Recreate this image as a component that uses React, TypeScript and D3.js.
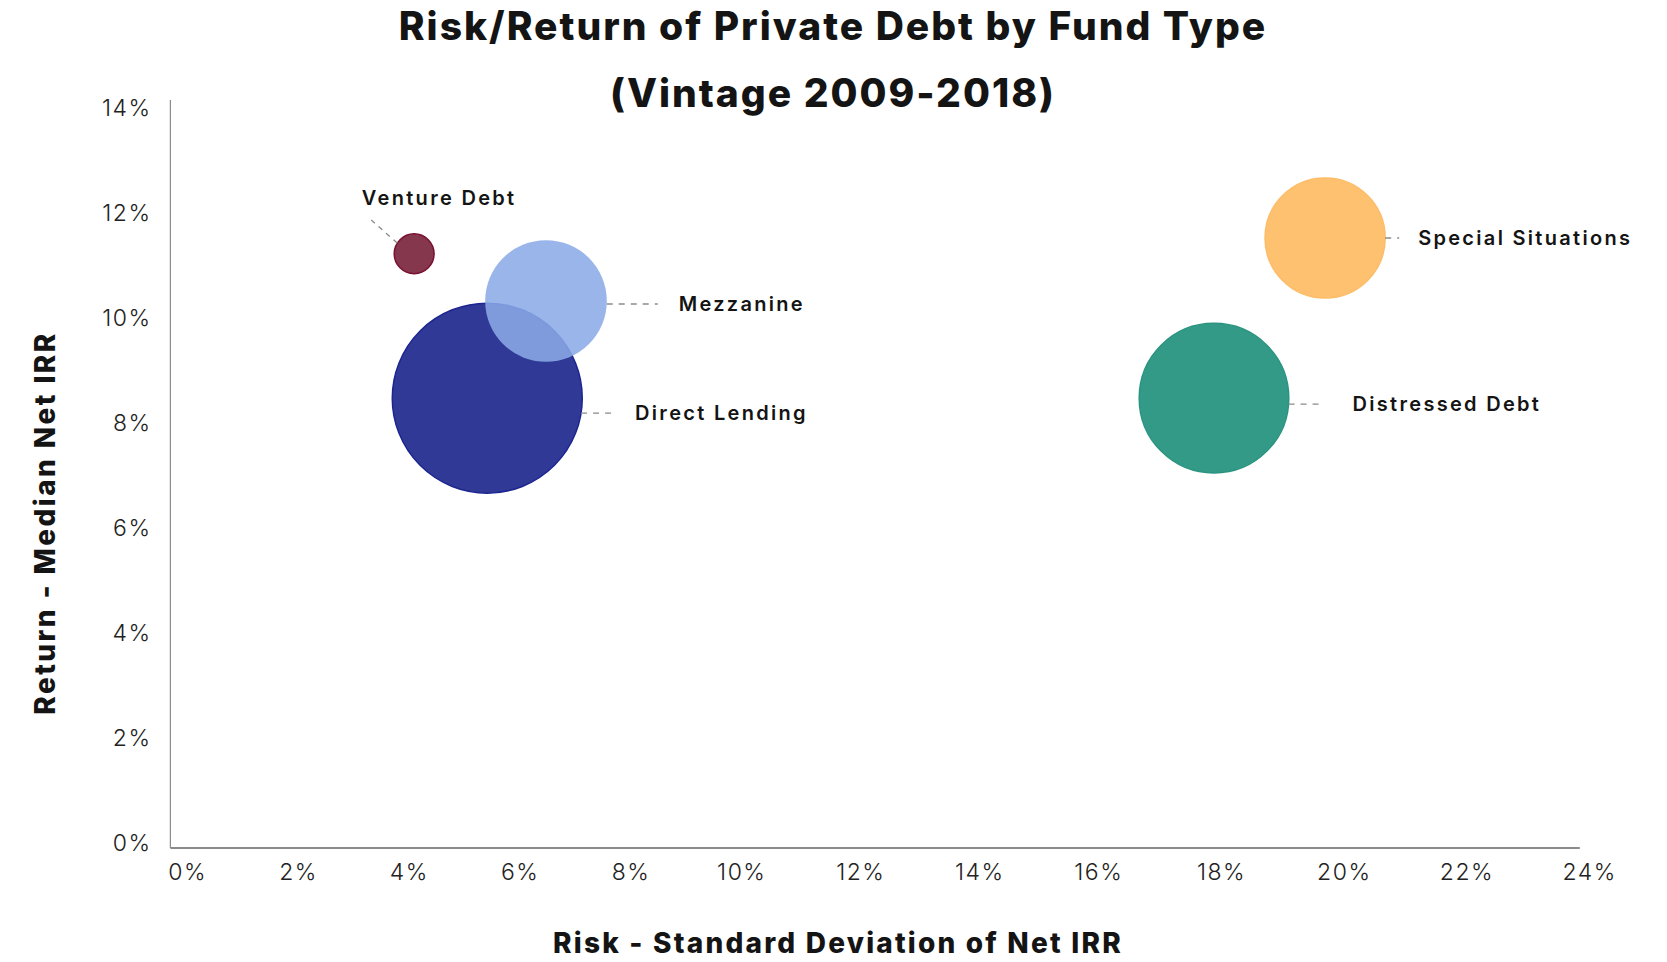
import React from "react";
import * as d3 from "d3";

// ---- Data ----
const fundTypes = ["Venture Debt", "Mezzanine", "Direct Lending", "Special Situations", "Distressed Debt"];
const riskStdDev = [4.1, 6.48, 5.42, 19.7, 17.89]; // % std dev of net IRR
const medianNetIRR = [11.3, 10.4, 8.55, 11.6, 8.55]; // % median net IRR
const bubbleSize = [4.4, 41, 100, 40, 62]; // relative fund-type size
const xTicks = [0, 2, 4, 6, 8, 10, 12, 14, 16, 18, 20, 22, 24];
const yTicks = [0, 2, 4, 6, 8, 10, 12, 14];

// ---- Styles / layout ----
const fills = ["#85374d", "#8baae7", "#303a96", "#fec170", "#339a87"];
const strokes = ["#7a1030", "none", "#1c2590", "#fdbd68", "#2a9480"];
const opacities = [1, 0.87, 1, 1, 1];
// label layout: lineDy (leader y offset from center), lineLen, gap to text
const labelLineDy = [0, 3, 15, 0, 6];
const labelLineLen = [0, 51, 34, 14, 33];
const labelGap = [0, 21, 20, 19, 31];

const W = 1667;
const H = 962;
const FONT = "Inter, 'Noto Sans', sans-serif";

export default function App() {
  // the source chart's x axis is slightly non-uniform; a polylinear scale reproduces it
  const x = d3.scaleLinear().domain([0, 10, 16, 24]).range([187, 741, 1098, 1589]);
  const y = d3.scaleLinear().domain([0, 14]).range([847, 112]);
  const r = d3.scaleSqrt().domain([0, d3.max(bubbleSize) as number]).range([0, 95]);

  const axisX0 = x(-0.3);
  const axisX1 = x(23.85);

  const pts = fundTypes.map((name, i) => ({
    name,
    cx: x(riskStdDev[i]),
    cy: y(medianNetIRR[i]),
    rr: r(bubbleSize[i]),
    i,
  }));

  const labelStyle = { fontSize: 20, fontWeight: 600, letterSpacing: 2.3 } as const;

  return (
    <svg
      width={W}
      height={H}
      style={{ position: "absolute", left: 0, top: 0, background: "#fff" }}
      fontFamily={FONT}
    >
      {/* Title */}
      <text x={833} y={40} textAnchor="middle" fontSize={39} fontWeight={800} letterSpacing={2} fill="#141414">
        Risk/Return of Private Debt by Fund Type
      </text>
      <text x={833} y={107} textAnchor="middle" fontSize={39} fontWeight={800} letterSpacing={2} fill="#141414">
        (Vintage 2009-2018)
      </text>

      {/* Axes */}
      <line x1={axisX0} x2={axisX0} y1={100} y2={848} stroke="#8a8a8a" strokeWidth={1.2} />
      <line x1={axisX0} x2={axisX1} y1={848} y2={848} stroke="#8a8a8a" strokeWidth={2} />

      {yTicks.map((t) => (
        <text
          key={"y" + t}
          x={151.5}
          y={y(t) - 4}
          textAnchor="end"
          dominantBaseline="central"
          fontSize={23}
          fontWeight={300}
          letterSpacing={1.5}
          fill="#222"
        >
          {t}%
        </text>
      ))}
      {xTicks.map((t) => (
        <text
          key={"x" + t}
          x={x(t) + 0.75}
          y={872}
          textAnchor="middle"
          dominantBaseline="central"
          fontSize={23}
          fontWeight={300}
          letterSpacing={1.5}
          fill="#222"
        >
          {t}%
        </text>
      ))}

      {/* Axis titles */}
      <text x={838} y={943} textAnchor="middle" dominantBaseline="central" fontSize={28} fontWeight={800} letterSpacing={2.2} fill="#141414">
        Risk - Standard Deviation of Net IRR
      </text>
      <text
        transform={`translate(45,523) rotate(-90)`}
        textAnchor="middle"
        dominantBaseline="central"
        fontSize={28}
        fontWeight={800}
        letterSpacing={2.4}
        fill="#141414"
      >
        Return - Median Net IRR
      </text>

      {/* Bubbles (largest first, translucent Mezzanine on top) */}
      {[...pts]
        .sort((a, b) => (a.name === "Mezzanine" ? 1 : b.name === "Mezzanine" ? -1 : b.rr - a.rr))
        .map((p) => (
          <circle
            key={p.name}
            cx={p.cx}
            cy={p.cy}
            r={p.rr}
            fill={fills[p.i]}
            fillOpacity={opacities[p.i]}
            stroke={strokes[p.i]}
            strokeWidth={1.5}
          />
        ))}

      {/* Leader lines + labels */}
      {pts.map((p) => {
        if (p.i === 0) {
          const ang = Math.atan2(-12, -19);
          const ex = p.cx + p.rr * Math.cos(ang);
          const ey = p.cy + p.rr * Math.sin(ang);
          return (
            <g key={"l" + p.name}>
              <line x1={ex} y1={ey} x2={ex - 26} y2={ey - 23} stroke="#8a8a8a" strokeWidth={1.3} strokeDasharray="5,5" />
              <text
                x={p.cx + 25}
                y={p.cy - 56}
                textAnchor="middle"
                dominantBaseline="central"
                {...labelStyle}
                fill="#141414"
              >
                {p.name}
              </text>
            </g>
          );
        }
        const dy = labelLineDy[p.i];
        const sx = p.cx + Math.sqrt(Math.max(0, p.rr * p.rr - dy * dy));
        const ly = p.cy + dy;
        const exl = sx + labelLineLen[p.i];
        return (
          <g key={"l" + p.name}>
            <line x1={sx} y1={ly} x2={exl} y2={ly} stroke="#8a8a8a" strokeWidth={1.3} strokeDasharray="6,6" />
            <text x={exl + labelGap[p.i]} y={ly} dominantBaseline="central" {...labelStyle} fill="#141414">
              {p.name}
            </text>
          </g>
        );
      })}
    </svg>
  );
}
